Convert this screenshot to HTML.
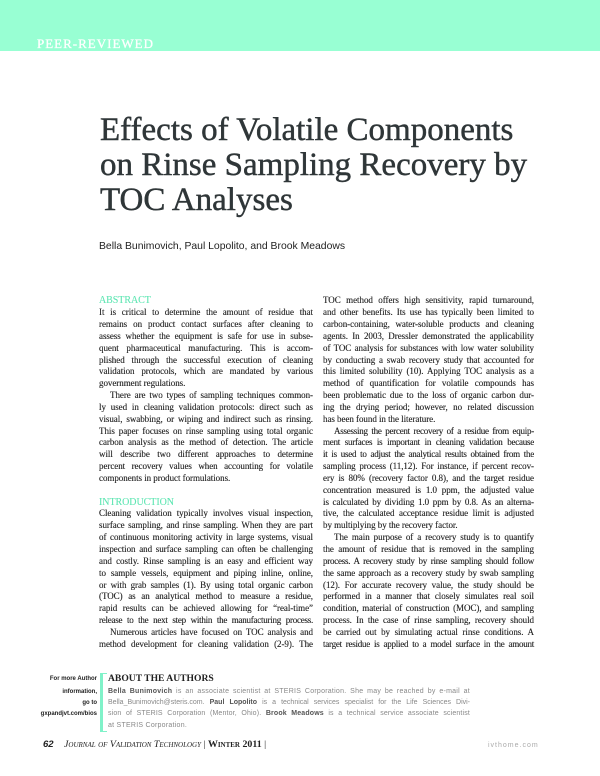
<!DOCTYPE html>
<html>
<head>
<meta charset="utf-8">
<style>
  html,body{margin:0;padding:0;}
  body{width:600px;height:776px;position:relative;background:#fff;overflow:hidden;}
  .band{position:absolute;left:0;top:0;width:600px;height:51px;background:#98ffd3;}
  .pr{position:absolute;left:37px;top:36.4px;font-family:"Liberation Serif",serif;font-size:13px;line-height:15px;letter-spacing:1px;color:#fff;white-space:nowrap;-webkit-text-stroke:0.3px #fff;}
  .title{position:absolute;left:100px;top:113.4px;font-family:"Liberation Serif",serif;font-size:33px;line-height:35px;color:#2f3638;white-space:nowrap;-webkit-text-stroke:0.45px #2f3638;}
  .authors{position:absolute;left:99px;top:241.4px;font-family:"Liberation Sans",sans-serif;font-size:10.4px;line-height:12px;color:#222;white-space:nowrap;}
  .col{position:absolute;top:295.3px;font-family:"Liberation Serif",serif;font-size:9px;line-height:11.85px;color:#1e1e1e;letter-spacing:-0.05px;-webkit-text-stroke:0.12px #1e1e1e;}
  .c1{left:99px;width:214px;}
  .c2{left:323px;width:211px;}
  .l{height:11.85px;text-align:justify;text-align-last:justify;overflow:visible;}
  .e{text-align-last:left;}
  .i{text-indent:11px;}
  .t{letter-spacing:-0.25px;}
  .h{font-size:10px;color:#5fe6b3;text-align:left;text-align-last:left;-webkit-text-stroke:0.1px #5fe6b3;}
  .note{position:absolute;right:503px;font-family:"Liberation Sans",sans-serif;font-weight:bold;font-size:6px;line-height:8px;color:#222;text-align:right;white-space:nowrap;}
  .brk{position:absolute;left:100px;top:673px;width:3px;height:59px;background:#80f2c9;}
  .brk:before{content:"";position:absolute;left:0;top:0;width:7px;height:1px;background:#80f2c9;}
  .brk:after{content:"";position:absolute;left:0;bottom:0;width:7px;height:1px;background:#80f2c9;}
  .about{position:absolute;left:108px;top:673px;font-family:"Liberation Serif",serif;font-weight:bold;font-size:9.6px;line-height:12px;color:#222;white-space:nowrap;}
  .bio{position:absolute;left:108px;top:685.7px;width:362px;font-family:"Liberation Sans",sans-serif;font-size:7px;line-height:11.4px;color:#888;}
  .bio .l{height:11.4px;}
  .bio b{color:#555;}
  .foot{position:absolute;top:739px;font-size:9.9px;line-height:12px;white-space:nowrap;color:#222;}
  .pg{left:43px;font-family:"Liberation Sans",sans-serif;font-weight:bold;font-style:italic;font-size:9.5px;}
  .jr{left:64px;font-family:"Liberation Serif",serif;}
  .jr i{font-variant:small-caps;}
  .jr b{font-variant:small-caps;}
  .url{position:absolute;left:488px;top:741px;font-family:"Liberation Sans",sans-serif;font-size:7px;line-height:9px;letter-spacing:1px;color:#aaa;white-space:nowrap;}
</style>
</head>
<body>
<div class="band"></div>
<div class="pr">PEER-REVIEWED</div>

<div class="title">Effects of Volatile Components<br>on Rinse Sampling Recovery by<br>TOC Analyses</div>

<div class="authors">Bella Bunimovich, Paul Lopolito, and Brook Meadows</div>

<div class="col c1">
  <div class="l h">ABSTRACT</div>
  <div class="l">It is critical to determine the amount of residue that</div>
  <div class="l">remains on product contact surfaces after cleaning to</div>
  <div class="l">assess whether the equipment is safe for use in subse-</div>
  <div class="l">quent pharmaceutical manufacturing. This is accom-</div>
  <div class="l">plished through the successful execution of cleaning</div>
  <div class="l">validation protocols, which are mandated by various</div>
  <div class="l e">government regulations.</div>
  <div class="l i">There are two types of sampling techniques common-</div>
  <div class="l">ly used in cleaning validation protocols: direct such as</div>
  <div class="l">visual, swabbing, or wiping and indirect such as rinsing.</div>
  <div class="l">This paper focuses on rinse sampling using total organic</div>
  <div class="l">carbon analysis as the method of detection. The article</div>
  <div class="l">will describe two different approaches to determine</div>
  <div class="l">percent recovery values when accounting for volatile</div>
  <div class="l e">components in product formulations.</div>
  <div class="l e"></div>
  <div class="l h">INTRODUCTION</div>
  <div class="l">Cleaning validation typically involves visual inspection,</div>
  <div class="l">surface sampling, and rinse sampling. When they are part</div>
  <div class="l">of continuous monitoring activity in large systems, visual</div>
  <div class="l">inspection and surface sampling can often be challenging</div>
  <div class="l">and costly. Rinse sampling is an easy and efficient way</div>
  <div class="l">to sample vessels, equipment and piping inline, online,</div>
  <div class="l">or with grab samples (1). By using total organic carbon</div>
  <div class="l">(TOC) as an analytical method to measure a residue,</div>
  <div class="l">rapid results can be achieved allowing for “real-time”</div>
  <div class="l t">release to the next step within the manufacturing process.</div>
  <div class="l i">Numerous articles have focused on TOC analysis and</div>
  <div class="l">method development for cleaning validation (2-9). The</div>
</div>

<div class="col c2">
  <div class="l">TOC method offers high sensitivity, rapid turnaround,</div>
  <div class="l">and other benefits. Its use has typically been limited to</div>
  <div class="l">carbon-containing, water-soluble products and cleaning</div>
  <div class="l">agents. In 2003, Dressler demonstrated the applicability</div>
  <div class="l">of TOC analysis for substances with low water solubility</div>
  <div class="l">by conducting a swab recovery study that accounted for</div>
  <div class="l">this limited solubility (10). Applying TOC analysis as a</div>
  <div class="l">method of quantification for volatile compounds has</div>
  <div class="l">been problematic due to the loss of organic carbon dur-</div>
  <div class="l">ing the drying period; however, no related discussion</div>
  <div class="l e">has been found in the literature.</div>
  <div class="l i t">Assessing the percent recovery of a residue from equip-</div>
  <div class="l t">ment surfaces is important in cleaning validation because</div>
  <div class="l t">it is used to adjust the analytical results obtained from the</div>
  <div class="l">sampling process (11,12). For instance, if percent recov-</div>
  <div class="l">ery is 80% (recovery factor 0.8), and the target residue</div>
  <div class="l">concentration measured is 1.0 ppm, the adjusted value</div>
  <div class="l">is calculated by dividing 1.0 ppm by 0.8. As an alterna-</div>
  <div class="l">tive, the calculated acceptance residue limit is adjusted</div>
  <div class="l e">by multiplying by the recovery factor.</div>
  <div class="l i">The main purpose of a recovery study is to quantify</div>
  <div class="l">the amount of residue that is removed in the sampling</div>
  <div class="l t">process. A recovery study by rinse sampling should follow</div>
  <div class="l">the same approach as a recovery study by swab sampling</div>
  <div class="l">(12). For accurate recovery value, the study should be</div>
  <div class="l">performed in a manner that closely simulates real soil</div>
  <div class="l">condition, material of construction (MOC), and sampling</div>
  <div class="l">process. In the case of rinse sampling, recovery should</div>
  <div class="l">be carried out by simulating actual rinse conditions. A</div>
  <div class="l t">target residue is applied to a model surface in the amount</div>
</div>

<div class="note" style="top:675px;">For more Author</div>
<div class="note" style="top:688px;">information,</div>
<div class="note" style="top:699px;">go to</div>
<div class="note" style="top:710px;">gxpandjvt.com/bios</div>

<div class="brk"></div>
<div class="about">ABOUT THE AUTHORS</div>
<div class="bio">
  <div class="l" style="letter-spacing:0.25px;"><b>Bella Bunimovich</b> is an associate scientist at STERIS Corporation. She may be reached by e-mail at</div>
  <div class="l">Bella_Bunimovich@steris.com. <b>Paul Lopolito</b> is a technical services specialist for the Life Sciences Divi-</div>
  <div class="l" style="letter-spacing:0.15px;">sion of STERIS Corporation (Mentor, Ohio). <b>Brook Meadows</b> is a technical service associate scientist</div>
  <div class="l e" style="letter-spacing:0.25px;">at STERIS Corporation.</div>
</div>

<div class="foot pg">62</div>
<div class="foot jr"><i>Journal of Validation Technology</i> | <b>Winter 2011</b> |</div>
<div class="url">ivthome.com</div>
</body>
</html>
